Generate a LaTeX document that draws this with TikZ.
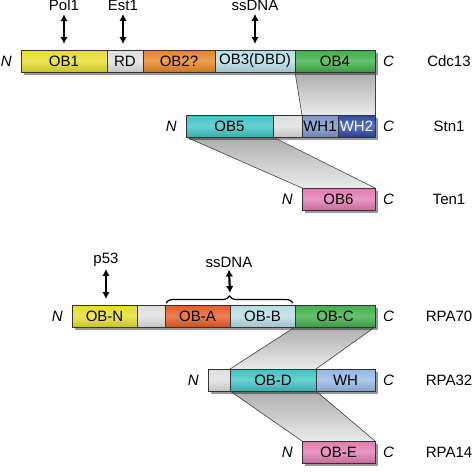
\documentclass[tikz,border=0pt]{standalone}
\usepackage{fontspec}
\setmainfont{Liberation Sans}
\usetikzlibrary{positioning}
\usetikzlibrary{shadows}
\usetikzlibrary{arrows.meta}
\usetikzlibrary{backgrounds}
\usetikzlibrary{decorations.pathreplacing}
\definecolor{Yel}{RGB}{228,222,40}
\definecolor{Gry}{RGB}{222,222,222}
\definecolor{Org}{RGB}{232,132,32}
\definecolor{LBlu}{RGB}{182,220,230}
\definecolor{Grn}{RGB}{62,176,72}
\definecolor{Teal}{RGB}{62,196,196}
\definecolor{Wh1}{RGB}{122,150,200}
\definecolor{Wh2}{RGB}{42,72,168}
\definecolor{Pnk}{RGB}{226,122,176}
\definecolor{Red}{RGB}{232,90,36}
\definecolor{WhB}{RGB}{150,184,228}
\tikzset{
  dom/.style={draw=black!80, line width=0.7pt, minimum height=22pt, inner sep=0pt, outer sep=0pt,
    top color=#1, bottom color=#1!88!black, middle color=#1!78!white,
    drop shadow={shadow xshift=2.5pt, shadow yshift=-2.5pt, opacity=0.4, fill=black},
    font=\fontsize{15}{15}\selectfont},
  term/.style={inner sep=0pt, font=\fontsize{15}{15}\selectfont\itshape},
  lab/.style={inner sep=0pt, font=\fontsize{15}{15}\selectfont},
  bind/.style={{Latex[length=7pt,width=7.5pt]}-{Latex[length=7pt,width=7.5pt]}, line width=2.2pt},
  band/.style={top color=black!32, bottom color=black!8},
  edge/.style={draw=black!75, line width=0.6pt}
}
\begin{document}
\begin{tikzpicture}[x=1pt,y=-1pt]
        \useasboundingbox (0,0) rectangle (474,474);
        % Cdc13
        \node[dom=Yel, minimum width=86pt, anchor=north west] (ob1) at (21,50) {OB1};
        \node[dom=Gry, minimum width=36pt, right=0pt of ob1] (rd) {RD};
        \node[dom=Org, minimum width=72pt, right=0pt of rd] (ob2) {OB2?};
        \node[dom=LBlu, minimum width=80pt, right=0pt of ob2] (ob3) {OB3(DBD)};
        \node[dom=Grn, minimum width=80pt, right=0pt of ob3] (ob4) {OB4};
        \node[term, left=9pt of ob1] (n1) {N};
        \node[term, right=8pt of ob4] (c1) {C};
        \node[lab] (cdc13) at (449,61) {Cdc13};
        % Stn1
        \node[dom=Teal, minimum width=87pt, anchor=north west] (ob5) at (186,115) {OB5};
        \node[dom=Gry, minimum width=29pt, right=0pt of ob5] (lnk) {};
        \node[dom=Wh1, minimum width=36pt, right=0pt of lnk] (wh1) {WH1};
        \node[dom=Wh2, minimum width=37pt, right=0pt of wh1, text=white] (wh2) {WH2};
        \node[term, left=9pt of ob5] (n2) {N};
        \node[term, right=8pt of wh2] (c2) {C};
        \node[lab] (stn1) at (449,126) {Stn1};
        % Ten1
        \node[dom=Pnk, minimum width=73pt, anchor=north west] (ob6) at (302,188) {OB6};
        \node[term, left=9pt of ob6] (n3) {N};
        \node[term, right=8pt of ob6] (c3) {C};
        \node[lab] (ten1) at (449,199) {Ten1};
        % RPA70
        \node[dom=Yel, minimum width=65pt, anchor=north west] (obn) at (72,305) {OB-N};
        \node[dom=Gry, minimum width=28pt, right=0pt of obn] (lnk70) {};
        \node[dom=Red, minimum width=65pt, right=0pt of lnk70] (oba) {OB-A};
        \node[dom=LBlu, minimum width=65pt, right=0pt of oba] (obb) {OB-B};
        \node[dom=Grn, minimum width=80pt, right=0pt of obb] (obc) {OB-C};
        \node[term, left=9pt of obn] (n4) {N};
        \node[term, right=8pt of obc] (c4) {C};
        \node[lab] (rpa70) at (449,316) {RPA70};
        % RPA32
        \node[dom=Gry, minimum width=22pt, anchor=north west] (lnk32) at (208,369) {};
        \node[dom=Teal, minimum width=86pt, right=0pt of lnk32] (obd) {OB-D};
        \node[dom=WhB, minimum width=59pt, right=0pt of obd] (wh) {WH};
        \node[term, left=9pt of lnk32] (n5) {N};
        \node[term, right=8pt of wh] (c5) {C};
        \node[lab] (rpa32) at (449,380) {RPA32};
        % RPA14
        \node[dom=Pnk, minimum width=73pt, anchor=north west] (obe) at (302,441) {OB-E};
        \node[term, left=9pt of obe] (n6) {N};
        \node[term, right=8pt of obe] (c6) {C};
        \node[lab] (rpa14) at (449,452) {RPA14};

        % partners
        \node[lab] (pol1) at (64,5.5) {Pol1};
        \node[lab] (est1) at (123,5.5) {Est1};
        \node[lab] (ss1) at (255,5.5) {ssDNA};
        \node[lab] (p53) at (106,260) {p53};
        \node[lab] (ss2) at (229,262) {ssDNA};
        \draw[bind] ([yshift=-3pt]pol1.south) -- ([yshift=6pt]pol1.south |- ob1.north);
        \draw[bind] ([yshift=-3pt]est1.south) -- ([yshift=6pt]est1.south |- rd.north);
        \draw[bind] ([yshift=-3pt]ss1.south) -- ([yshift=6pt]ss1.south |- ob3.north);
        \draw[bind] ([yshift=-2pt]p53.south) -- ([yshift=6pt]p53.south |- obn.north);
        \draw[bind] ([yshift=-2pt]ss2.south) -- ([yshift=12pt]oba.north east);
        \draw[line width=1.2pt, decorate, decoration={brace, amplitude=7pt}]
            ([xshift=1pt, yshift=2pt]oba.north west) -- ([xshift=-2pt, yshift=2pt]obb.north east);

        % bands
        \begin{scope}[on background layer]
        \path[band] (ob4.south west) -- (wh1.north west) -- (wh2.north east) -- (ob4.south east) -- cycle;
        \path[band] (ob5.south west) -- (ob6.north west) -- (ob6.north east) -- (ob5.south east) -- cycle;
        \path[band] (obc.south west) -- (obd.north west) -- (obd.north east) -- (obc.south east) -- cycle;
        \path[band] (obd.south west) -- (obe.north west) -- (obe.north east) -- (obd.south east) -- cycle;
        \end{scope}
        \draw[edge] (ob4.south west) -- (wh1.north west);
        \draw[edge] (ob4.south east) -- (wh2.north east);
        \draw[edge] (ob5.south west) -- (ob6.north west);
        \draw[edge] (ob5.south east) -- (ob6.north east);
        \draw[edge] (obc.south west) -- (obd.north west);
        \draw[edge] (obc.south east) -- (obd.north east);
        \draw[edge] (obd.south west) -- (obe.north west);
        \draw[edge] (obd.south east) -- (obe.north east);
\end{tikzpicture}
\end{document}
